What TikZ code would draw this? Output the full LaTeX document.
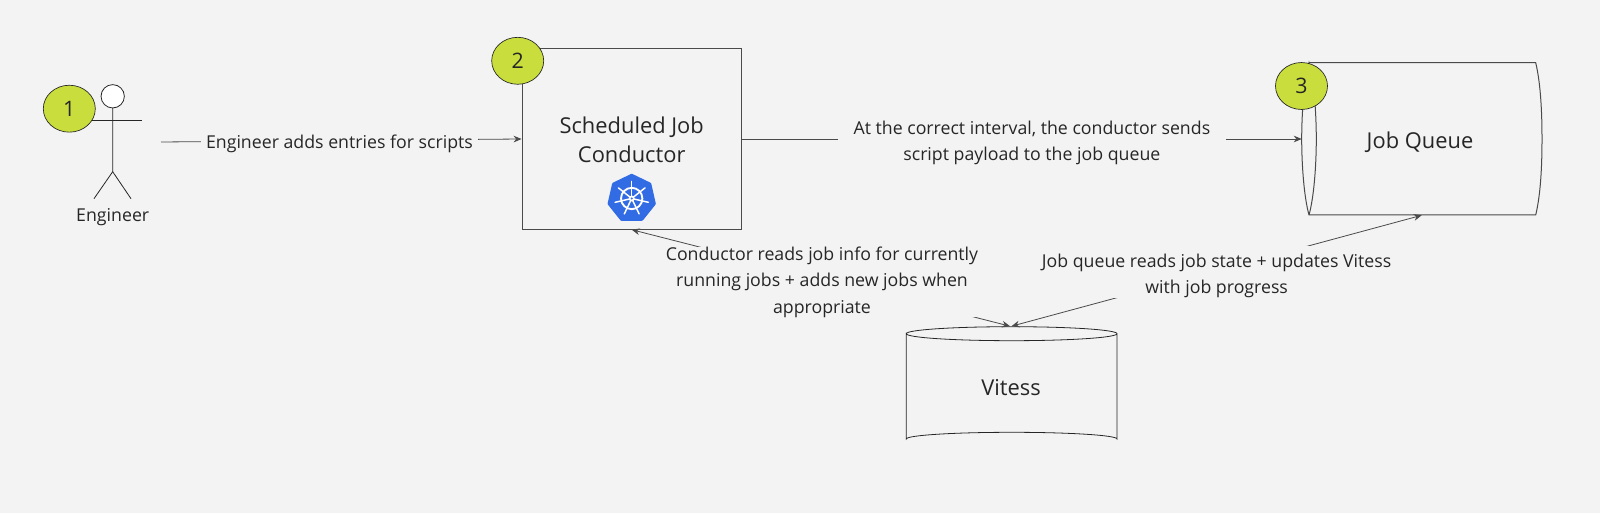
\documentclass[tikz,border=0pt]{standalone}
\usepackage{fontspec}
\setmainfont{Open Sans}
\usetikzlibrary{arrows.meta,calc,shapes.geometric}
\definecolor{bg}{HTML}{F3F3F3}
\definecolor{lime}{HTML}{C9DE3C}
\definecolor{ink}{HTML}{262626}
\definecolor{edge}{HTML}{4A4A4A}
\definecolor{kube}{HTML}{326CE5}
\tikzset{
  x=0.75pt,y=-0.75pt,
  shapeline/.style={draw=edge,line width=0.75pt},
  thinline/.style={draw=ink,line width=0.6pt},
  badge/.style={ellipse,draw=ink,line width=0.5pt,fill=lime,minimum width=39pt,minimum height=35.2pt,inner sep=0pt,text=ink,font=\fontsize{16}{18}\selectfont},
  flow/.style={draw=edge,line width=0.6pt,-{Stealth[length=6pt,width=5pt]}},
  biflow/.style={draw=edge,line width=0.6pt,{Stealth[length=6pt,width=5pt]}-{Stealth[length=6pt,width=5pt]}},
  flowlabel/.style={fill=bg,text=ink,align=center,inner ysep=0pt,font=\fontsize{13.3}{19.6}\selectfont},
  title/.style={text=ink,align=center,inner sep=0pt,font=\fontsize{16.4}{21.8}\selectfont},
}
\begin{document}
\begin{tikzpicture}
\useasboundingbox[fill=bg] (0,0) rectangle (1600,513);
% actor
\draw[thinline] (92,120.7) -- (141.7,120.7);
\draw[thinline] (112.7,108) -- (112.7,171.7) -- (94,198.7);
\draw[thinline] (112.7,171.7) -- (131,198.7);
\node[circle,draw=ink,line width=0.6pt,fill=white,minimum size=17.5pt,inner sep=0pt] (head) at (112.7,96.3) {};
\node[text=ink,inner sep=0pt,font=\fontsize{13.3}{15}\selectfont] (engineer) at (112.7,217) {Engineer};
\coordinate (actorout) at (161,142);
% conductor
\node[shapeline,minimum width=164.5pt,minimum height=135.5pt,inner sep=0pt] (conductor) at (631.7,139) {};
\node[title] (conductortext) at (631.7,139.5) {Scheduled Job\\Conductor};
% kubernetes icon
\node[regular polygon,regular polygon sides=7,fill=kube,draw=kube,line join=round,line width=2.5pt,minimum size=34.5pt,inner sep=0pt] (kube) at (631.7,198.5) {};
\draw[white,line width=1.4pt] (kube.center) circle (8pt);
\foreach \a in {90,141.4,192.9,244.3,295.7,347.1,38.6}
  \draw[white,line width=1.1pt,line cap=round] ($(kube.center)+(\a:1.5pt)$) -- ($(kube.center)+(\a:12.8pt)$);
\fill[white] (kube.center) circle (2.2pt);
\fill[kube] (kube.center) circle (0.9pt);
% job queue
\coordinate (qtl) at (1309,62.7);
\coordinate (qbl) at (1309,215);
\coordinate (qtr) at (1535.7,62.7);
\coordinate (qbr) at (1535.7,215);
\draw[shapeline] (qtl) -- (qtr) .. controls (1541,85) and (1542,115) .. (1542,139) .. controls (1542,163) and (1541,193) .. (qbr) -- (qbl)
  .. controls (1304,197) and (1301.7,165) .. (1301.7,139) .. controls (1301.7,113) and (1304,81) .. (qtl)
  .. controls (1314,81) and (1316.3,113) .. (1316.3,139) .. controls (1316.3,165) and (1314,197) .. (qbl);
\node[text=ink,inner sep=0pt,font=\fontsize{16.4}{18}\selectfont] (queuetext) at (1420,142) {Job Queue};
\coordinate (qleft) at (1301.7,139);
\coordinate (qbottom) at (1421.7,215.3);
% vitess
\draw[thinline] (906.3,333.7) arc[start angle=180,end angle=0,x radius=105.35,y radius=-7]
  arc[start angle=0,end angle=-180,x radius=105.35,y radius=-7] -- (906.3,439)
  arc[start angle=180,end angle=360,x radius=105.35,y radius=6.7] -- (1117,333.7);
\node[text=ink,inner sep=0pt,font=\fontsize{16.4}{18}\selectfont] (vitess) at (1011,388) {Vitess};
\coordinate (vtopa) at (1010,326.2);
\coordinate (vtopb) at (1011.5,326.2);
% connectors
\draw[flow] (actorout) -- node[flowlabel,inner xsep=3.5pt,pos=0.495,yshift=-2.6pt] (l1) {Engineer adds entries for scripts} (conductor.west);
\draw[flow] (conductor.east) -- node[flowlabel,inner xsep=12pt,pos=0.518,yshift=-3.2pt] (l2) {At the correct interval, the conductor sends\\script payload to the job queue} (qleft);
\coordinate (cbottom) at (631.7,229.7);
\draw[biflow] (cbottom) -- node[flowlabel,inner xsep=0pt,pos=0.503,yshift=-3pt] (l3) {Conductor reads job info for currently\\running jobs + adds new jobs when\\appropriate} (vtopa);
\draw[biflow] (vtopb) -- node[flowlabel,inner xsep=0pt,pos=0.5,yshift=-0.9pt] (l4) {\rule{0pt}{16pt}Job queue reads job state + updates Vitess\\with job progress} (qbottom);
% badges
\node[badge] (b1) at (69.3,108.7) {\raisebox{-1pt}{1}};
\node[badge] (b2) at (517.7,60.8) {\raisebox{-1pt}{2}};
\node[badge] (b3) at (1301.5,86) {\raisebox{-1pt}{3}};
\end{tikzpicture}
\end{document}
